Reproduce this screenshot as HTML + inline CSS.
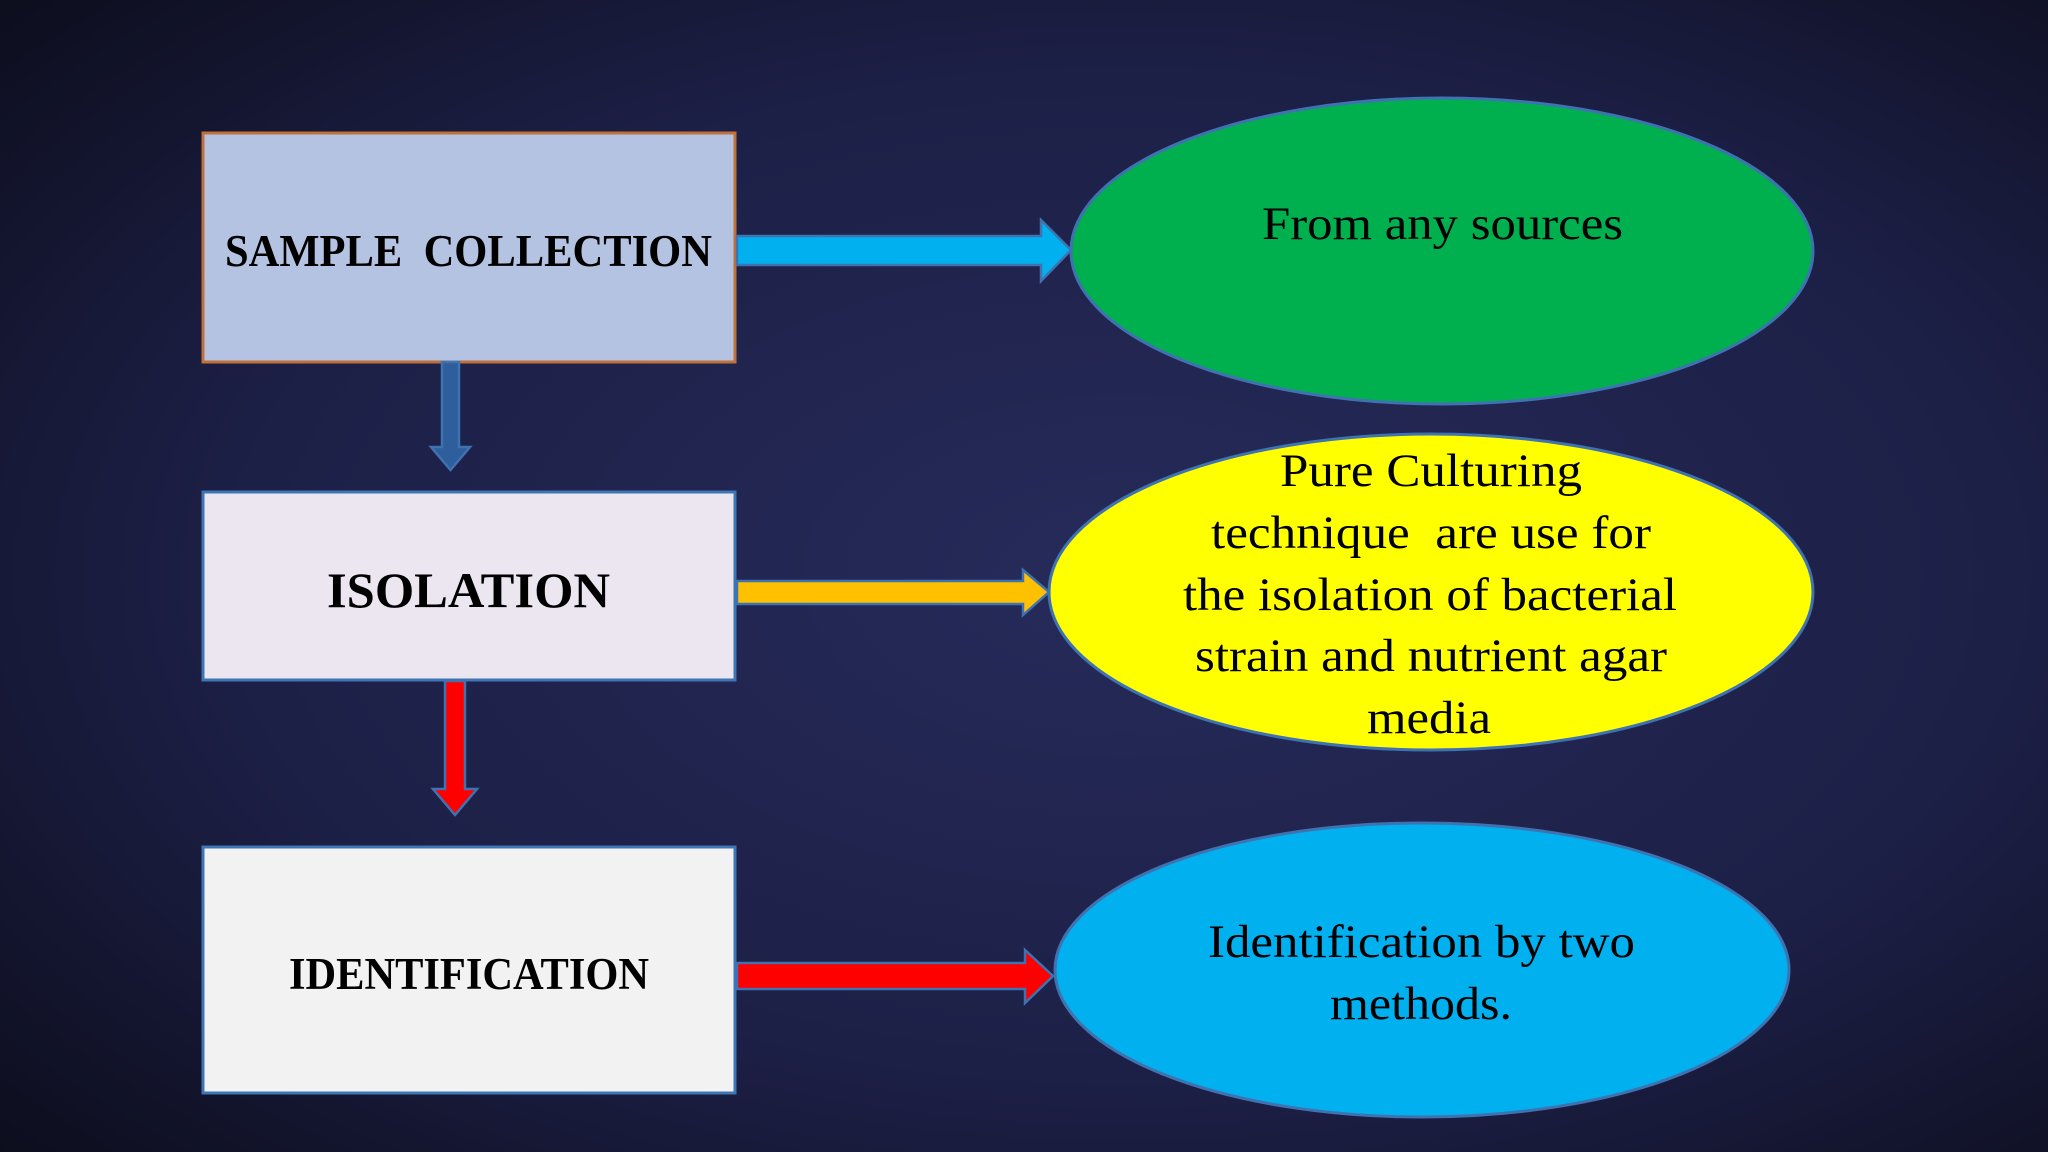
<!DOCTYPE html>
<html><head><meta charset="utf-8"><style>
html,body{margin:0;padding:0;width:2048px;height:1152px;overflow:hidden;background:#151834}
svg{display:block}
</style></head><body>
<svg width="2048" height="1152" viewBox="0 0 2048 1152" xmlns="http://www.w3.org/2000/svg">
<defs>
<radialGradient id="bg" cx="0.55" cy="0.5" r="0.75">
<stop offset="0" stop-color="#262b5a"/>
<stop offset="0.6" stop-color="#1c1f45"/>
<stop offset="1" stop-color="#0c0d1c"/>
</radialGradient>
</defs>
<rect width="2048" height="1152" fill="url(#bg)"/>

<rect x="203" y="133" width="532" height="229" fill="#b4c3e1" stroke="#c0703a" stroke-width="3"/>
<rect x="203" y="492" width="532" height="188" fill="#ebe6ef" stroke="#3d75b5" stroke-width="3"/>
<rect x="203" y="847" width="532" height="246" fill="#f1f2f1" stroke="#3d75b5" stroke-width="3"/>

<ellipse cx="1442" cy="251" rx="371" ry="153" fill="#00b04f" stroke="#3e72b0" stroke-width="3"/>
<ellipse cx="1431" cy="592" rx="382" ry="158" fill="#ffff00" stroke="#3e72b0" stroke-width="3"/>
<ellipse cx="1422" cy="970" rx="367" ry="147" fill="#00b0ef" stroke="#3e72b0" stroke-width="3"/>

<polygon points="737,236 1041,236 1041,220 1071,250 1041,281 1041,265 737,265" fill="#00b0ef" stroke="#3e72b0" stroke-width="2.5"/>
<polygon points="737,581 1023,581 1023,570 1049,592 1023,615 1023,604 737,604" fill="#ffc000" stroke="#3e72b0" stroke-width="2.5"/>
<polygon points="737,963 1025,963 1025,950 1053,976 1025,1003 1025,989 737,989" fill="#ff0000" stroke="#3e72b0" stroke-width="2.5"/>

<polygon points="442,362 459,362 459,447 470,447 450.5,470 431,447 442,447" fill="#2e5e9c" stroke="#3e72b0" stroke-width="2.5"/>
<polygon points="445,681 465,681 465,789 477,789 455,815 433,789 445,789" fill="#ff0000" stroke="#3e72b0" stroke-width="2.5"/>

<g font-family="'Liberation Serif', serif" fill="#000">
<text x="225" y="266" font-size="46" font-weight="bold" textLength="487" lengthAdjust="spacingAndGlyphs" xml:space="preserve">SAMPLE  COLLECTION</text>
<text x="327" y="607" font-size="50" font-weight="bold" textLength="283" lengthAdjust="spacingAndGlyphs">ISOLATION</text>
<text x="289" y="989" font-size="45" font-weight="bold" textLength="360" lengthAdjust="spacingAndGlyphs">IDENTIFICATION</text>

<g font-size="47">
<text x="1262" y="239" textLength="361" lengthAdjust="spacingAndGlyphs">From any sources</text>
<text x="1280" y="486" textLength="302" lengthAdjust="spacingAndGlyphs">Pure Culturing</text>
<text x="1211" y="548" textLength="440" lengthAdjust="spacingAndGlyphs" xml:space="preserve">technique  are use for</text>
<text x="1183" y="610" textLength="494" lengthAdjust="spacingAndGlyphs">the isolation of bacterial</text>
<text x="1195" y="671" textLength="472" lengthAdjust="spacingAndGlyphs">strain and nutrient agar</text>
<text x="1367" y="733" textLength="124" lengthAdjust="spacingAndGlyphs">media</text>
<text x="1208" y="957" textLength="427" lengthAdjust="spacingAndGlyphs">Identification by two</text>
<text x="1330" y="1019" textLength="182" lengthAdjust="spacingAndGlyphs">methods.</text>
</g>
</g>
</svg>
</body></html>
